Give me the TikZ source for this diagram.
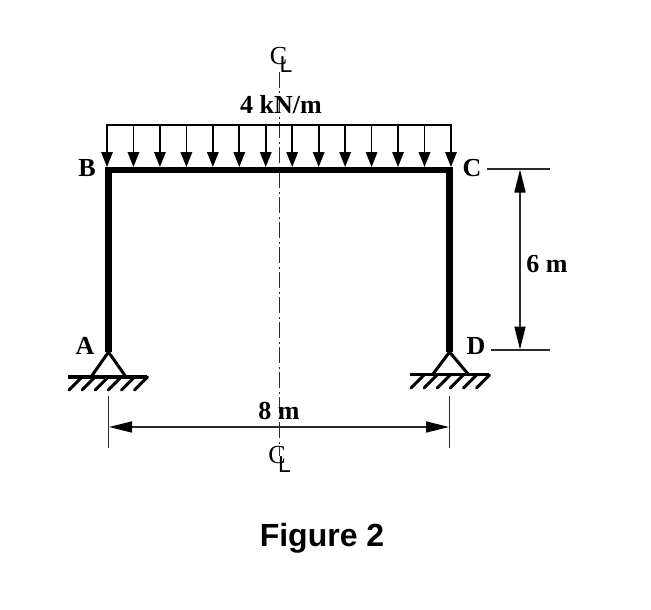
\documentclass[tikz,border=0pt]{standalone}
\usepackage{fontspec}
\setmainfont{Liberation Serif}
\newfontfamily\figfont{Liberation Sans}
\usetikzlibrary{arrows.meta}
\definecolor{dimgray}{HTML}{2A2A2A}
\tikzset{
  x=1pt,y=-1pt,
  member/.style={line width=6.5pt,line cap=butt,line join=miter},
  support/.style={line width=3pt},
  hatch/.style={line width=3pt},
  loadline/.style={line width=1.7pt,-{Triangle[length=15pt,width=11.5pt]}},
  dimline/.style={line width=1.4pt,color=dimgray},
  dimarrow/.style={dimline,{Triangle[length=23pt,width=11pt,color=black]}-{Triangle[length=23pt,width=11pt,color=black]},shorten <=0.5pt,shorten >=0.5pt},
  axisline/.style={line width=1.3pt,color=dimgray,dash pattern=on 16pt off 3.5pt on 2pt off 3.5pt},
  lab/.style={font=\fontsize{26}{28}\selectfont\bfseries,inner sep=0pt},
  clc/.style={font=\fontsize{26}{28}\selectfont,inner sep=0pt},
  cll/.style={font=\figfont\fontsize{23}{25}\selectfont,inner sep=0pt},
}
\begin{document}
\begin{tikzpicture}
\useasboundingbox (0,0) rectangle (651,610);
\fill[white] (0,0) rectangle (651,610);
% key points
\coordinate (A) at (108.5,352);
\coordinate (B) at (108.5,170);
\coordinate (C) at (449.5,170);
\coordinate (D) at (449.5,352);
\coordinate (loadL) at (106.2,125);
\coordinate (loadR) at (451.8,125);
\coordinate (axisT) at (279.5,72);
\coordinate (axisB) at (279.5,456);
% axis
\draw[axisline] (axisT) -- (axisB);
% load
\draw[line width=1.7pt] (loadL) -- (loadR);
\foreach \i in {0,...,13}{
  \coordinate (lt\i) at ({107+\i*26.46},125);
  \coordinate (lb\i) at ({107+\i*26.46},167);
  \draw[loadline] (lt\i) -- (lb\i);
}
% frame
\draw[member] (A) -- (B) -- (C) -- (D);
% supports
\coordinate (Al) at (91,377); \coordinate (Ar) at (126,377);
\coordinate (Dl) at (433,374); \coordinate (Dr) at (468,374);
\draw[support,line join=miter] (Al) -- (A) -- (Ar);
\draw[support,line join=miter] (Dl) -- (D) -- (Dr);
\coordinate (Ag1) at (68,377); \coordinate (Ag2) at (147,377);
\coordinate (Dg1) at (410,374.5); \coordinate (Dg2) at (489,374.5);
\draw[line width=3.2pt] (Ag1) -- (Ag2);
\draw[line width=3.2pt] (Dg1) -- (Dg2);
\foreach \i in {0,...,5}{
  \draw[hatch,line cap=round] ({69+\i*13.1},390) -- ({82+\i*13.1},377);
  \draw[hatch,line cap=round] ({411+\i*13.1},388) -- ({424+\i*13.1},375);
}
% horizontal dimension
\coordinate (h1t) at (108.5,396); \coordinate (h1b) at (108.5,448);
\coordinate (h2t) at (449.5,396); \coordinate (h2b) at (449.5,448);
\coordinate (h1) at (108.5,427); \coordinate (h2) at (449.5,427);
\draw[dimline] (h1t) -- (h1b);
\draw[dimline] (h2t) -- (h2b);
\draw[dimarrow] (h1) -- (h2);
% vertical dimension
\coordinate (v1a) at (487,169); \coordinate (v1b) at (550,169);
\coordinate (v2a) at (491,350); \coordinate (v2b) at (550,350);
\coordinate (v1) at (520,169); \coordinate (v2) at (520,350);
\draw[dimline] (v1a) -- (v1b);
\draw[dimline] (v2a) -- (v2b);
\draw[dimarrow] (v1) -- (v2);
% labels
\node[lab] (tload) at (281,105) {4 kN/m};
\node[lab] (tB) at (87,168) {B};
\node[lab] (tC) at (472,168) {C};
\node[lab] (tA) at (85,346) {A};
\node[lab] (tD) at (476,346) {D};
\node[lab] (t6) at (547,264) {6 m};
\node[lab] (t8) at (279,411) {8 m};
\node[clc] (cl1c) at (278.5,56) {C};
\node[cll] (cl1l) at (286,65) {L};
\node[clc] (cl2c) at (277,455) {C};
\node[cll] (cl2l) at (284.5,465) {L};
\node[font=\figfont\fontsize{32}{34}\selectfont\bfseries,inner sep=0pt] (fig) at (322,538) {Figure 2};
\end{tikzpicture}
\end{document}
